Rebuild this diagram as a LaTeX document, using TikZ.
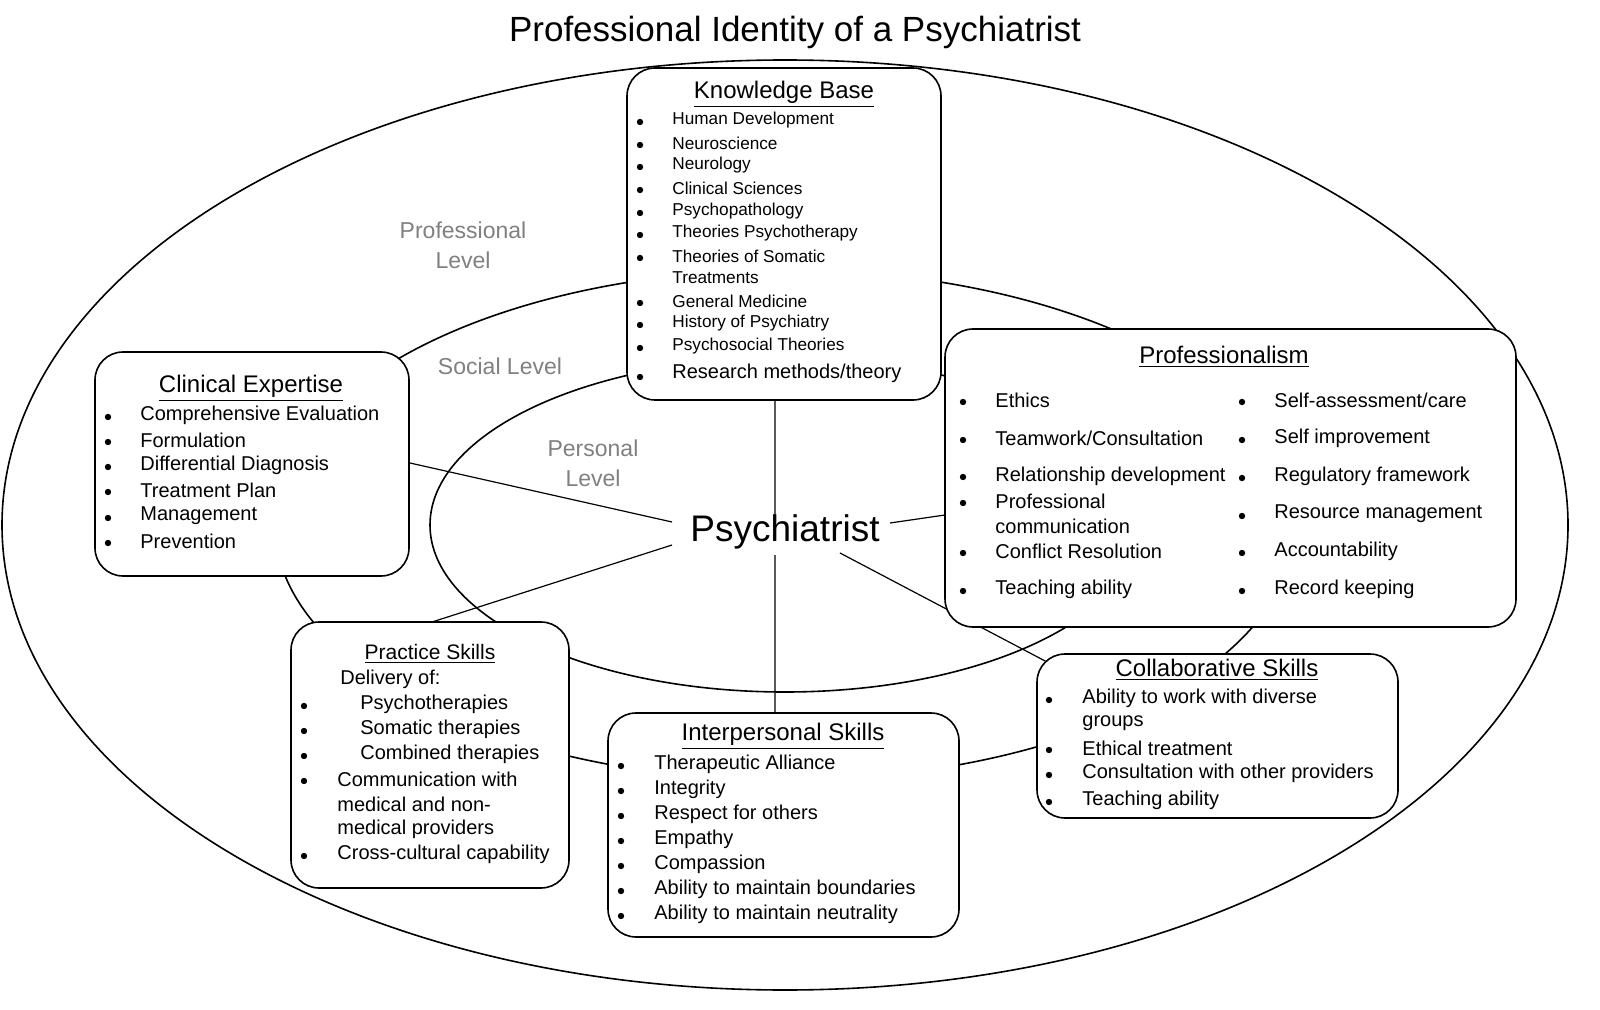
\documentclass[tikz,border=0pt]{standalone}
\usepackage{fontspec}
\setmainfont{Liberation Sans}
\begin{document}
\begin{tikzpicture}[x=0.5pt,y=-0.5pt,
  box/.style={draw,thick,rounded corners=14pt,fill=white},
  it/.style={anchor=west,inner sep=0pt,font=\fontsize{10}{12}\selectfont},
  kit/.style={anchor=west,inner sep=0pt,font=\fontsize{8.6}{10}\selectfont},
  hd/.style={inner sep=0pt,font=\fontsize{12}{14}\selectfont},
  lvl/.style={align=center,text=gray,font=\fontsize{11.5}{15}\selectfont},
  bul/.style={circle,fill=black,inner sep=0pt,minimum size=3.2pt}]
\useasboundingbox (0,0) rectangle (1600,1010);
\node[font=\fontsize{17.5}{20}\selectfont] (title) at (795,32) {Professional Identity of a Psychiatrist};
\draw[thick] (785,525) ellipse [x radius=783,y radius=465];
\draw[thick] (785,525) ellipse [x radius=510,y radius=255];
\draw[thick] (785,525) ellipse [x radius=355,y radius=167];
\node[lvl] (pl) at (463,245) {Professional\\Level};
\node[lvl] (sl) at (500,366) {Social Level};
\node[lvl] (perl) at (593,463) {Personal\\Level};
\node[font=\fontsize{18.5}{20}\selectfont] (psy) at (785,532) {Psychiatrist};
\coordinate (a1) at (410,463); \coordinate (a2) at (672,522);
\coordinate (b1) at (432,622); \coordinate (b2) at (672,545);
\coordinate (c1) at (775,400); \coordinate (c2) at (775,515);
\coordinate (d1) at (775,555); \coordinate (d2) at (775,713);
\coordinate (e1) at (890,523); \coordinate (e2) at (945,515);
\coordinate (f1) at (840,553); \coordinate (f2) at (1047,662);
\draw[semithick] (a1)--(a2) (b1)--(b2) (c1)--(c2) (d1)--(d2) (e1)--(e2) (f1)--(f2);
% boxes
\draw[box] (627,68) rectangle (941,400);
\draw[box] (95,352) rectangle (409,576);
\draw[box] (945,329) rectangle (1516,627);
\draw[box] (291,622) rectangle (569,888);
\draw[box] (608,713) rectangle (959,937);
\draw[box] (1037,654) rectangle (1398,818);
% Knowledge
\node[hd] (kbh) at (784,94) {\underline{Knowledge Base}};
\foreach \y/\t in {120/Human Development,143/Neuroscience,165/Neurology,188/Clinical Sciences,211/Psychopathology,233/Theories Psychotherapy,256/Theories of Somatic,278/Treatments,301/General Medicine,323/History of Psychiatry,346/Psychosocial Theories}
  \node[kit] at (672,\y) {\t};
\node[it] at (672,373) {Research methods/theory};
\foreach \y in {120,143,165,188,211,233,256,301,323,346,375} \node[bul] at (640,\y+2) {};
% Clinical
\node[hd] (ceh) at (251,388) {\underline{Clinical Expertise}};
\foreach \y/\t in {415/Comprehensive Evaluation,440/Formulation,465/Differential Diagnosis,490/Treatment Plan,516/Management,541/Prevention}
  {\node[it] at (140,\y) {\t}; \node[bul] at (108,\y+2) {};}
% Professionalism
\node[hd] (prh) at (1224,357) {\underline{Professionalism}};
\foreach \y/\t in {400/Ethics,438/{Teamwork/Consultation},476/Relationship development,501/Professional,526/communication,551/Conflict Resolution,589/Teaching ability}
  \node[it] at (995,\y) {\t};
\foreach \y in {402,440,477,503,553,591} \node[bul] at (963,\y) {};
\foreach \y/\t in {400/{Self-assessment/care},438/Self improvement,476/Regulatory framework,514/Resource management,551/Accountability,589/Record keeping}
  {\node[it] at (1274,\y) {\t}; \node[bul] at (1242,\y+2) {};}
% Collaborative
\node[hd] (csh) at (1217,670) {\underline{Collaborative Skills}};
\foreach \y/\t in {698/Ability to work with diverse,723/groups,748/Ethical treatment,773/Consultation with other providers,800/Teaching ability}
  \node[it] at (1082,\y) {\t};
\foreach \y in {700,750,775,802} \node[bul] at (1049,\y) {};
% Interpersonal
\node[hd] (ish) at (783,736) {\underline{Interpersonal Skills}};
\foreach \y/\t in {764/Therapeutic Alliance,789/Integrity,814/Respect for others,839/Empathy,864/Compassion,889/Ability to maintain boundaries,914/Ability to maintain neutrality}
  {\node[it] at (654,\y) {\t}; \node[bul] at (621,\y+2) {};}
% Practice
\node[hd,font=\fontsize{10.5}{12}\selectfont] (psh) at (430,654) {\underline{Practice Skills}};
\node[it] at (340,679) {Delivery of:};
\foreach \y/\t in {704/Psychotherapies,729/Somatic therapies,754/Combined therapies}
  \node[it] at (360,\y) {\t};
\foreach \y/\t in {779/Communication with,804/medical and non-,829/medical providers,854/Cross-cultural capability}
  \node[it] at (337,\y) {\t};
\foreach \y in {706,731,756,781,856} \node[bul] at (304,\y) {};
\end{tikzpicture}
\end{document}
